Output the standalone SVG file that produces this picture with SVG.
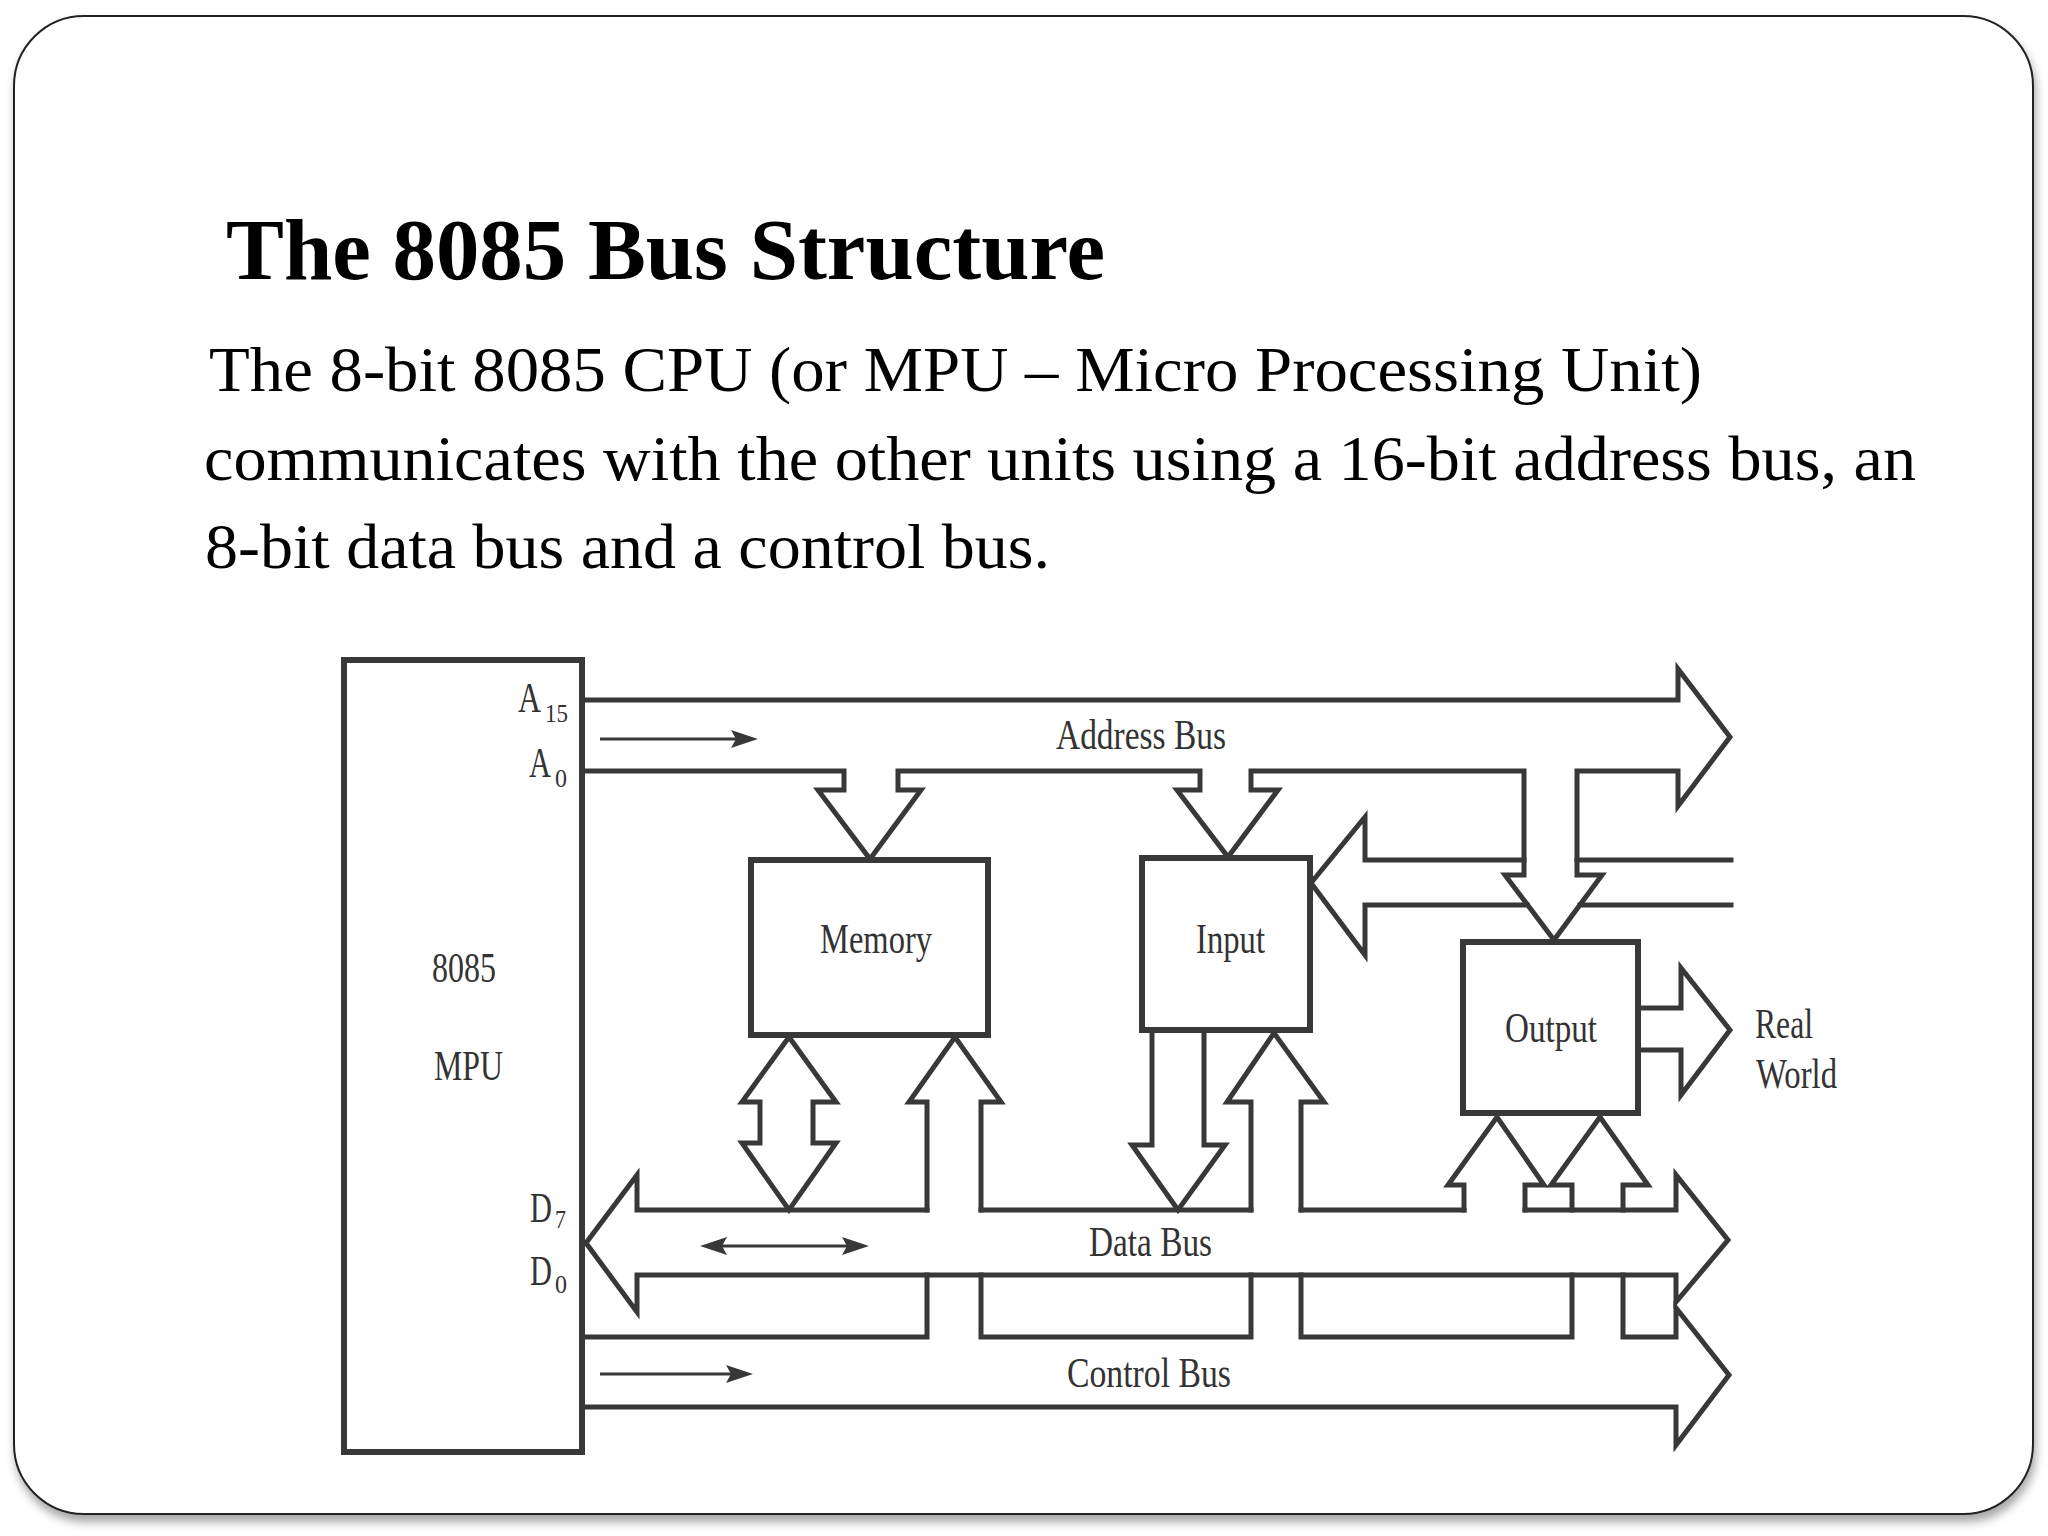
<svg xmlns="http://www.w3.org/2000/svg" width="2048" height="1536" viewBox="0 0 2048 1536">
  <defs>
    <filter id="shadow" x="-5%" y="-5%" width="110%" height="112%">
      <feDropShadow dx="2" dy="7" stdDeviation="5" flood-color="#000" flood-opacity="0.35"/>
    </filter>
    <style>
      .ln { fill: none; stroke: #383838; stroke-width: 5; stroke-linejoin: miter; stroke-linecap: square; }
      .box { fill: #fff; stroke: #383838; stroke-width: 6; }
      .ah { fill: #383838; stroke: none; }
      .thin { fill: none; stroke: #383838; stroke-width: 3; }
      .lbl { font-family: "Liberation Serif", "Times New Roman", serif; font-size: 42px; fill: #333; }
      .sub { font-family: "Liberation Serif", "Times New Roman", serif; font-size: 26px; fill: #333; }
      .title { font-family: "Liberation Serif", "Times New Roman", serif; font-size: 86px; font-weight: bold; fill: #000; }
      .body { font-family: "Liberation Serif", "Times New Roman", serif; font-size: 64px; fill: #000; }
    </style>
  </defs>

  <rect x="0" y="0" width="2048" height="1536" fill="#fff"/>
  <rect id="frame" x="14" y="16" width="2019" height="1498" rx="70" ry="70" fill="#fff" stroke="#222" stroke-width="2" filter="url(#shadow)"/>

  <g id="heading">
    <text class="title" x="226" y="279" textLength="879" lengthAdjust="spacingAndGlyphs">The 8085 Bus Structure</text>
    <text class="body" x="209" y="391" textLength="1493" lengthAdjust="spacingAndGlyphs">The 8-bit 8085 CPU (or MPU – Micro Processing Unit)</text>
    <text class="body" x="204" y="480" textLength="1712" lengthAdjust="spacingAndGlyphs">communicates with the other units using a 16-bit address bus, an</text>
    <text class="body" x="205" y="568" textLength="845" lengthAdjust="spacingAndGlyphs">8-bit data bus and a control bus.</text>
  </g>

  <g id="connectors">
    <!-- Address bus with drop arrows to Memory, Input, Output -->
    <path class="ln" d="M582,700 L1678,700 L1678,669 L1730,737 L1678,806 L1678,771 L1577,771 L1577,875 L1602,875 L1554,940 L1505,875 L1524,875 L1524,771 L1251,771 L1251,790 L1278,790 L1228,857 L1177,790 L1200,790 L1200,771 L898,771 L898,790 L921,790 L870,859 L818,790 L844,790 L844,771 L582,771"/>
    <!-- Real world input arrow into Input -->
    <path class="ln" d="M1731,860 L1577,860 M1524,860 L1365,860 L1365,817 L1311,883 L1365,955 L1365,905 L1527,905 M1580,905 L1731,905"/>
    <!-- Output to real world -->
    <path class="ln" d="M1638,1008 L1681,1008 L1681,968 L1730,1030 L1681,1095 L1681,1050 L1638,1050"/>
    <!-- Memory bidirectional data arrow -->
    <path class="ln" d="M789,1037 L836,1102 L813,1102 L813,1143 L836,1143 L789,1210 L742,1143 L760,1143 L760,1102 L742,1102 Z"/>
    <!-- Memory control arrow -->
    <path class="ln" d="M927,1210 L927,1102 L909,1102 L955,1037 L1001,1102 L981,1102 L981,1210"/>
    <!-- Input to data bus -->
    <path class="ln" d="M1152,1030 L1152,1145 L1132,1145 L1178,1210 L1225,1145 L1204,1145 L1204,1030"/>
    <!-- Input control arrow -->
    <path class="ln" d="M1251,1210 L1251,1102 L1227,1102 L1274,1033 L1324,1102 L1301,1102 L1301,1210"/>
    <!-- Output data arrow -->
    <path class="ln" d="M1464,1210 L1464,1185 L1448,1185 L1497,1117 L1544,1185 L1525,1185 L1525,1210"/>
    <!-- Output control arrow -->
    <path class="ln" d="M1572,1210 L1572,1185 L1551,1185 L1600,1117 L1648,1185 L1623,1185 L1623,1210"/>
    <!-- Data bus -->
    <path class="ln" d="M927,1210 L637,1210 L637,1175 L586,1243 L637,1312 L637,1275 L1676,1275 L1676,1302 L1728,1240 L1676,1175 L1676,1210 L1525,1210 M981,1210 L1251,1210 M1301,1210 L1464,1210"/>
    <!-- Control bus -->
    <path class="ln" d="M582,1337 L927,1337 L927,1275 M981,1275 L981,1337 L1251,1337 L1251,1275 M1301,1275 L1301,1337 L1572,1337 L1572,1275 M1623,1275 L1623,1337 L1676,1337 L1676,1308 L1729,1375 L1676,1445 L1676,1407 L582,1407"/>
    <!-- direction arrows -->
    <line class="thin" x1="600" y1="739" x2="740" y2="739"/>
    <polygon class="ah" points="758,739 731,730 736,739 731,748"/>
    <line class="thin" x1="716" y1="1246" x2="853" y2="1246"/>
    <polygon class="ah" points="700,1246 727,1237 722,1246 727,1255"/>
    <polygon class="ah" points="869,1246 842,1237 847,1246 842,1255"/>
    <line class="thin" x1="600" y1="1374" x2="735" y2="1374"/>
    <polygon class="ah" points="753,1374 726,1365 731,1374 726,1383"/>
  </g>

  <g id="mpu">
    <rect class="box" x="344" y="660" width="238" height="792"/>
    <text class="lbl" x="432" y="982" textLength="64" lengthAdjust="spacingAndGlyphs">8085</text>
    <text class="lbl" x="434" y="1080" textLength="69" lengthAdjust="spacingAndGlyphs">MPU</text>
    <text class="lbl" x="518" y="712" textLength="23" lengthAdjust="spacingAndGlyphs">A</text>
    <text class="sub" x="545" y="722" textLength="23" lengthAdjust="spacingAndGlyphs">15</text>
    <text class="lbl" x="529" y="777" textLength="22" lengthAdjust="spacingAndGlyphs">A</text>
    <text class="sub" x="555" y="787" textLength="12" lengthAdjust="spacingAndGlyphs">0</text>
    <text class="lbl" x="530" y="1222" textLength="22" lengthAdjust="spacingAndGlyphs">D</text>
    <text class="sub" x="555" y="1228" textLength="11" lengthAdjust="spacingAndGlyphs">7</text>
    <text class="lbl" x="530" y="1285" textLength="22" lengthAdjust="spacingAndGlyphs">D</text>
    <text class="sub" x="555" y="1293" textLength="12" lengthAdjust="spacingAndGlyphs">0</text>
  </g>

  <g id="memory">
    <rect class="box" x="751" y="860" width="237" height="175"/>
    <text class="lbl" x="820" y="953" textLength="112" lengthAdjust="spacingAndGlyphs">Memory</text>
  </g>

  <g id="input">
    <rect class="box" x="1142" y="858" width="168" height="172"/>
    <text class="lbl" x="1196" y="953" textLength="69" lengthAdjust="spacingAndGlyphs">Input</text>
  </g>

  <g id="output">
    <rect class="box" x="1463" y="942" width="175" height="171"/>
    <text class="lbl" x="1505" y="1042" textLength="92" lengthAdjust="spacingAndGlyphs">Output</text>
  </g>

  <g id="bus-labels">
    <text class="lbl" x="1056" y="749" textLength="170" lengthAdjust="spacingAndGlyphs">Address Bus</text>
    <text class="lbl" x="1089" y="1256" textLength="123" lengthAdjust="spacingAndGlyphs">Data Bus</text>
    <text class="lbl" x="1067" y="1387" textLength="164" lengthAdjust="spacingAndGlyphs">Control Bus</text>
  </g>

  <g id="real-world">
    <text class="lbl" x="1755" y="1038" textLength="58" lengthAdjust="spacingAndGlyphs">Real</text>
    <text class="lbl" x="1756" y="1088" textLength="81" lengthAdjust="spacingAndGlyphs">World</text>
  </g>
</svg>
